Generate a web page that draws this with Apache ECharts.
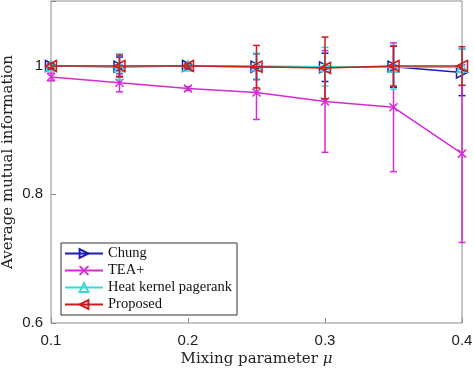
<!DOCTYPE html>
<html><head><meta charset="utf-8">
<script src="https://cdn.jsdelivr.net/npm/echarts@6/dist/echarts.min.js"></script>
<style>html,body{margin:0;padding:0;background:#fff}#c{width:474px;height:370px}</style>
</head><body><div id="c"></div>
<script>
const mu = [0.1, 0.15, 0.2, 0.25, 0.3, 0.35, 0.4];
const chung = [0.999, 0.998, 0.999, 0.998, 0.997, 0.998, 0.989];
const chungErr = [0.004, 0.015, 0.004, 0.02, 0.022, 0.032, 0.036];
const tea = [0.982, 0.973, 0.964, 0.958, 0.944, 0.935, 0.863];
const teaErr = [0.006, 0.014, 0.003, 0.042, 0.079, 0.1, 0.138];
const heat = [0.999, 0.998, 0.999, 0.999, 0.998, 0.997, 0.997];
const heatErr = [0.004, 0.02, 0.004, 0.02, 0.03, 0.034, 0.028];
const prop = [0.999, 0.999, 0.999, 0.998, 0.996, 0.999, 0.999];
const propErr = [0.004, 0.017, 0.004, 0.033, 0.048, 0.031, 0.03];
const xTicks = [0.1, 0.2, 0.3, 0.4];
const yTicks = [0.6, 0.8, 1];

const C = {chung:'#1c1cb0', tea:'#d62ad6', heat:'#3ad8d8', prop:'#cc1c1c'};
const RIGHT = 'path://M0,0 L10,5 L0,10 Z';
const LEFT = 'path://M10,0 L0,5 L10,10 Z';
const UP = 'path://M5,0 L10,10 L0,10 Z';
const XM = 'path://M0,0 L10,10 M10,0 L0,10';

function pts(v){ return mu.map((x,i)=>[x, v[i]]); }
function errSeries(v, e, color, z){
  return {
    type:'custom', z:z, silent:true,
    data: mu.map((x,i)=>[x, v[i]-e[i], v[i]+e[i]]),
    renderItem:function(params, api){
      const lo = api.coord([api.value(0), api.value(1)]);
      const hi = api.coord([api.value(0), api.value(2)]);
      const w = 3.5;
      const st = {stroke:color, lineWidth:1.5};
      return {type:'group', children:[
        {type:'line', shape:{x1:lo[0],y1:lo[1],x2:hi[0],y2:hi[1]}, style:st},
        {type:'line', shape:{x1:lo[0]-w,y1:lo[1],x2:lo[0]+w,y2:lo[1]}, style:st},
        {type:'line', shape:{x1:hi[0]-w,y1:hi[1],x2:hi[0]+w,y2:hi[1]}, style:st}
      ]};
    }
  };
}
function lineSeries(name, v, color, sym, size, z){
  return {
    name:name, type:'line', z:z, data:pts(v), symbol:sym, symbolSize:size,
    showAllSymbol:true, animation:false,
    lineStyle:{color:color, width:1.5},
    itemStyle:{color:'rgba(255,255,255,0)', borderColor:color, borderWidth:1.5}
  };
}
const chart = echarts.init(document.getElementById('c'));
const serif = '"DejaVu Serif",serif';
const lserif = '"Liberation Serif","DejaVu Serif",serif';
const sans = '"Liberation Sans","DejaVu Sans",sans-serif';
chart.setOption({
  animation:false,
  grid:{left:51, right:12, top:1, bottom:47, containLabel:false, outerBoundsMode:'none',
    show:true, borderColor:'#8c8c8c', borderWidth:1},
  legend:{
    orient:'vertical', left:61, top:243, itemWidth:38, itemHeight:11, itemGap:2,
    padding:[3,5,3,3], borderColor:'#333', borderWidth:1, backgroundColor:'#fff',
    textStyle:{fontFamily:lserif, fontSize:14.5, color:'#111'},
    data:['Chung','TEA+','Heat kernel pagerank','Proposed']
  },
  xAxis:{
    type:'value', min:0.1, max:0.4, interval:0.1,
    name:'Mixing parameter {i|μ}', nameLocation:'middle', nameGap:29, nameMoveOverlap:false,
    nameTextStyle:{fontFamily:serif, fontSize:15, color:'#222', rich:{i:{fontFamily:serif, fontStyle:'italic', fontSize:15, color:'#222'}}},
    axisLine:{show:false}, splitLine:{show:false},
    axisTick:{inside:true, length:5, lineStyle:{color:'#8c8c8c'}},
    axisLabel:{margin:10, fontFamily:sans, fontSize:15, color:'#222',
      formatter:function(v){ const t = xTicks.find(a=>Math.abs(a-v)<1e-9); return t===undefined?'':t.toString(); }}
  },
  yAxis:{
    type:'value', min:0.6, max:1.1, interval:0.2,
    name:'Average mutual information', nameLocation:'middle', nameGap:35, nameMoveOverlap:false,
    nameTextStyle:{fontFamily:serif, fontSize:15, color:'#222'},
    axisLine:{show:false}, splitLine:{show:false},
    axisTick:{inside:true, length:5, lineStyle:{color:'#8c8c8c'}},
    axisLabel:{margin:8, fontFamily:sans, fontSize:15, color:'#222',
      formatter:function(v){ const t = yTicks.find(a=>Math.abs(a-v)<1e-9); return t===undefined?'':t.toString(); }}
  },
  series:[
    errSeries(chung, chungErr, C.chung, 1),
    lineSeries('Chung', chung, C.chung, RIGHT, 11, 2),
    errSeries(tea, teaErr, C.tea, 3),
    lineSeries('TEA+', tea, C.tea, XM, 8, 4),
    errSeries(heat, heatErr, C.heat, 5),
    lineSeries('Heat kernel pagerank', heat, C.heat, UP, 10, 6),
    errSeries(prop, propErr, C.prop, 7),
    lineSeries('Proposed', prop, C.prop, LEFT, 11, 8)
  ]
});
</script></body></html>
